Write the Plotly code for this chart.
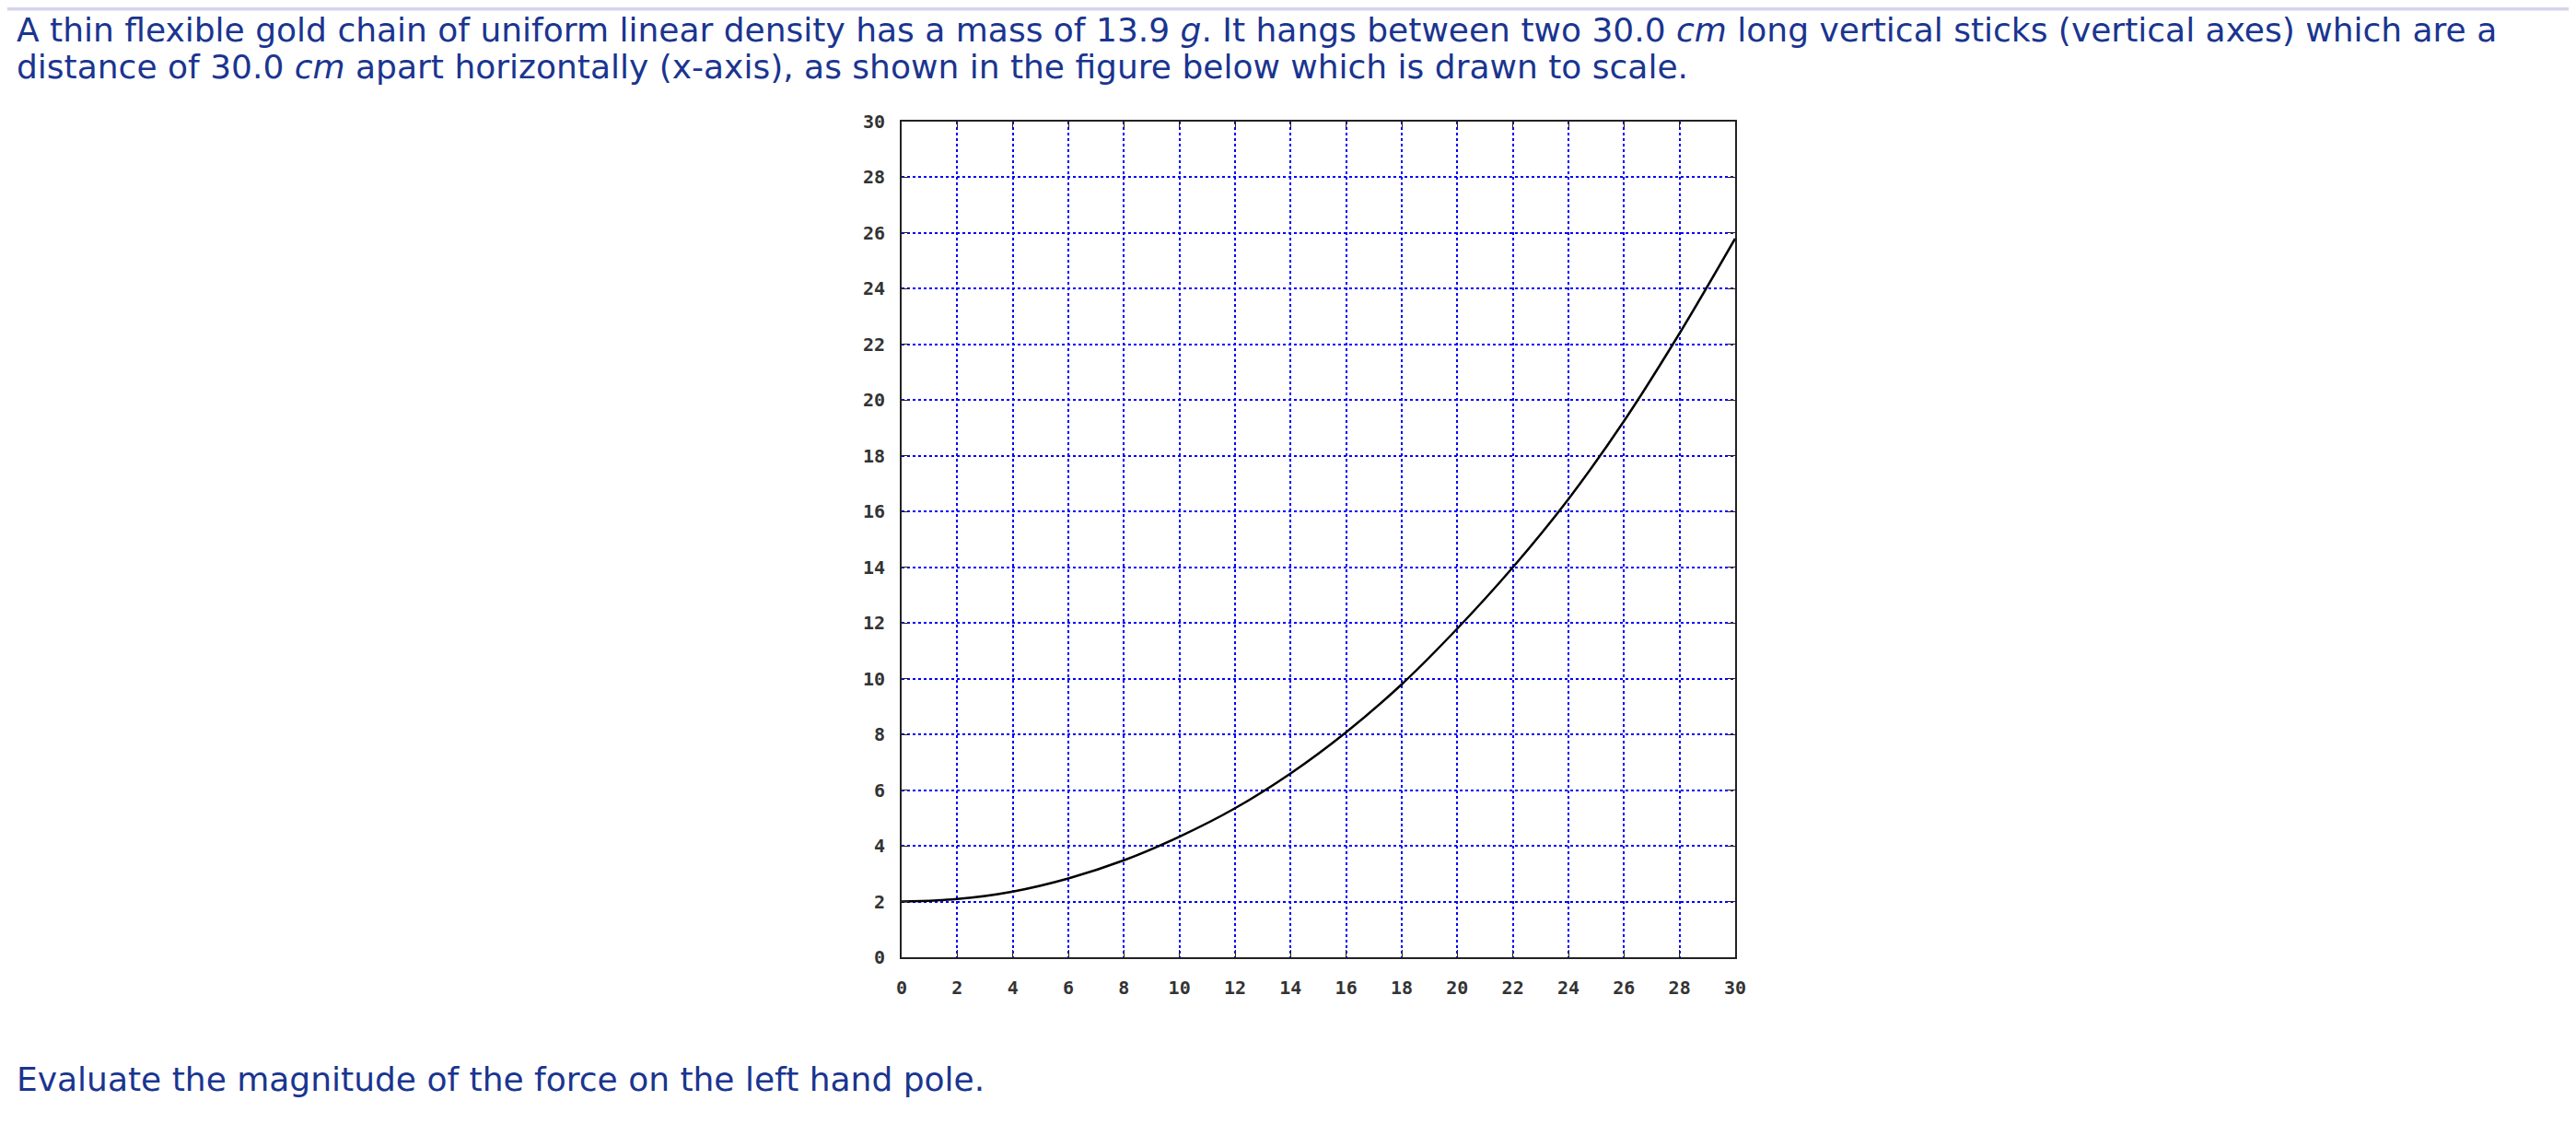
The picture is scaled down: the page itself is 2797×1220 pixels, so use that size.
import plotly.graph_objects as go

# chain shape (cm)
x_cm = [0, 2, 4, 6, 8, 10, 12, 14, 16, 18, 20, 22, 24, 26, 28, 30]
y_cm = [2.0, 2.09, 2.36, 2.83, 3.48, 4.33, 5.35, 6.6, 8.08, 9.8, 11.8, 14.0, 16.45, 19.25, 22.4, 25.8]
ticks = list(range(0, 31, 2))

title_lines = [
    "A thin flexible gold chain of uniform linear density has a mass of 13.9 <i>g</i>. It hangs between two 30.0 <i>cm</i> long vertical sticks (vertical axes) which are a",
    "distance of 30.0 <i>cm</i> apart horizontally (x-axis), as shown in the figure below which is drawn to scale.",
]
question = "Evaluate the magnitude of the force on the left hand pole."

fig = go.Figure()
fig.add_trace(go.Scatter(x=x_cm, y=y_cm, mode='lines', line=dict(color='black', width=2.5, shape='spline'),
                         showlegend=False, hoverinfo='skip'))

tickfont = dict(family='DejaVu Sans Mono', size=20, color='#333', weight='bold')
grid = dict(showgrid=True, gridcolor='blue', griddash='dot', gridwidth=2,
            showline=True, linecolor='#222', linewidth=2, mirror='ticks',
            ticks='inside', ticklen=8, tickcolor='#222', zeroline=False,
            tickvals=ticks, tickfont=tickfont, range=[0, 30])
fig.update_xaxes(ticklabelstandoff=14, **grid)
fig.update_yaxes(ticklabelstandoff=12, **grid)

textfont = dict(family='DejaVu Sans', size=36, color='#1a3590')
for shift, line in zip([100, 60], title_lines):
    fig.add_annotation(x=0, y=1, xref='paper', yref='paper', xanchor='left', yanchor='middle',
                       xshift=-962, yshift=shift, showarrow=False, borderpad=0,
                       text=line, font=textfont)
fig.add_annotation(x=0, y=0, xref='paper', yref='paper', xanchor='left', yanchor='middle',
                   xshift=-962, yshift=-132, showarrow=False, borderpad=0,
                   text=question, font=textfont)

# faint page rule at the very top
fig.add_shape(type='line', xref='paper', yref='paper', x0=-1.1, x1=2.1, y0=1.135, y1=1.135,
              line=dict(color='#d4d4ee', width=4))

fig.update_layout(width=2797, height=1220, plot_bgcolor='white', paper_bgcolor='white',
                  margin=dict(l=971, r=921, t=124, b=189))

fig.write_html("out.html")
